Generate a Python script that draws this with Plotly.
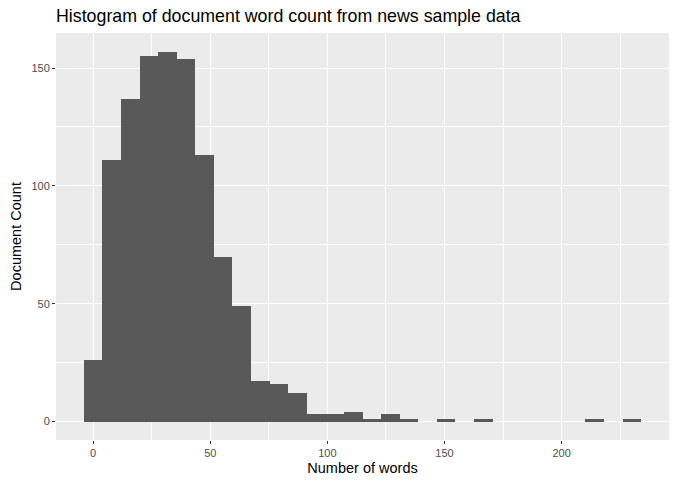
import plotly.graph_objs as go

# histogram bins (30 bins, centred on 0, width ~7.93)
bin_width = 230 / 29
counts = [26, 111, 137, 155, 157, 154, 113, 70, 49, 17,
          16, 12, 3, 3, 4, 1, 3, 1, 0, 1,
          0, 1, 0, 0, 0, 0, 0, 1, 0, 1]
centers = [i * bin_width for i in range(len(counts))]

x_ticks = [0, 50, 100, 150, 200]
y_ticks = [0, 50, 100, 150]

font = 'Liberation Sans, Arial, sans-serif'

fig = go.Figure()
fig.add_trace(go.Bar(x=centers, y=counts, width=bin_width,
                     marker=dict(color='#595959', line=dict(width=0)),
                     hoverinfo='x+y'))

axis_style = dict(showgrid=True, gridcolor='white', gridwidth=1.1,
                  zeroline=False, showline=False, automargin=False,
                  ticks='outside', ticklen=3, tickwidth=1, tickcolor='#333333',
                  tickfont=dict(size=11, color='#4D4D4D', family=font),
                  minor=dict(showgrid=True, gridcolor='white', gridwidth=0.5))

fig.update_layout(
    width=679, height=481,
    title=dict(text='Histogram of document word count from news sample data',
               font=dict(size=17.8, color='black', family=font),
               x=56 / 679, xanchor='left', y=1 - 16 / 481, yanchor='middle',
               automargin=False),
    margin=dict(l=56, r=10, t=33, b=41),
    plot_bgcolor='#EBEBEB', paper_bgcolor='white',
    bargap=0, showlegend=False,
    font=dict(family=font),
    xaxis=dict(axis_style, range=[-15.86, 245.86], tickvals=x_ticks,
               minor=dict(axis_style['minor'], tickvals=[25, 75, 125, 175, 225], ticks=''),
               title=dict(text='Number of words', standoff=4,
                          font=dict(size=14.5, color='black', family=font))),
    yaxis=dict(axis_style, range=[-7.85, 164.85], tickvals=y_ticks,
               minor=dict(axis_style['minor'], tickvals=[25, 75, 125], ticks=''),
               title=dict(text='Document Count', standoff=6,
                          font=dict(size=14.5, color='black', family=font))),
)

# drop the browser's default body margin so the figure sits at the window corner
fig.write_html("out.html", config={'displayModeBar': False},
               post_script="document.body.style.margin='0px';")
